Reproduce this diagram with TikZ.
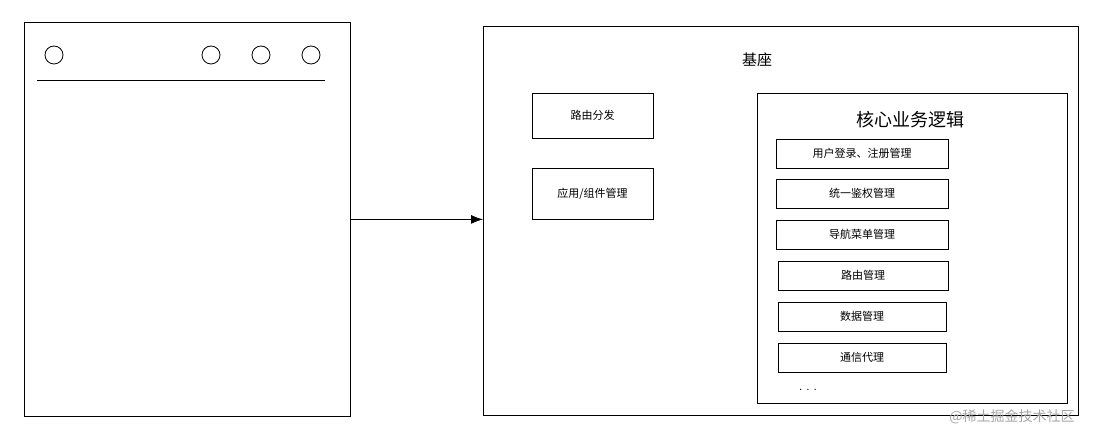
\documentclass[tikz,border=0pt]{standalone}
\usepackage{fontspec}
\setmainfont{Noto Sans CJK SC}
\usetikzlibrary{positioning,arrows.meta}

\tikzset{
	box/.style={draw=black, thick, minimum width=172pt, minimum height=29pt, font=\fontsize{11}{13}\selectfont},
	pbox/.style={draw=black, thick, minimum width=121pt, font=\fontsize{11}{13}\selectfont},
	dot/.style={shape=circle, draw=black, thick, minimum size=18pt, inner sep=0pt}
}

\begin{document}
\begin{tikzpicture}[x=1pt,y=-1pt]
	\useasboundingbox (0,0) rectangle (1103,443);
	
	% browser frame
	\node[draw=black, thick, minimum width=326pt, minimum height=394pt, anchor=north west] (win) at (24,22) {};
	\node[dot] (c1) at (54,55) {};
	\node[dot] (c2) at (211,55) {};
	\node[dot] (c3) at (261,55) {};
	\node[dot] (c4) at (311,55) {};
	\coordinate (l1) at (37,80);
	\coordinate (l2) at (325,80);
	\draw[thick] (l1) -- (l2);
	
	% base
	\node[draw=black, thick, minimum width=595pt, minimum height=389pt, anchor=north west] (base) at (483,26) {};
	\node[font=\fontsize{15}{17}\selectfont] (basetitle) at (757,60) {基座};
	\node[pbox, minimum height=45pt] (route) at (592.5,115.5) {路由分发};
	\node[pbox, minimum height=51pt] (app) at (592.5,193.5) {应用/组件管理};
	
	% core logic
	\node[draw=black, thick, minimum width=310pt, minimum height=310pt, anchor=north west] (core) at (757,93) {};
	\node[font=\fontsize{18}{20}\selectfont] (coretitle) at (910,120) {核心业务逻辑};
	\node[box] (m1) at (862,153.5) {用户登录、注册管理};
	\node[box] (m2) at (862,193.5) {统一鉴权管理};
	\node[box] (m3) at (862,234.5) {导航菜单管理};
	\node[box, minimum width=170pt] (m4) at (863,275.5) {路由管理};
	\node[box, minimum width=168pt] (m5) at (862,316.5) {数据管理};
	\node[box, minimum width=168pt] (m6) at (862,357.5) {通信代理};
	\node (more) at (808,390) {.\ \ .\ \ .};
	
	\draw[-{Latex[length=12pt,width=9pt]}, thick] (win.east) -- (win.east -| base.west);
	
	\node[text=gray!70, font=\fontsize{14}{16}\selectfont] (wm) at (1012,417) {@稀土掘金技术社区};
\end{tikzpicture}
\end{document}
